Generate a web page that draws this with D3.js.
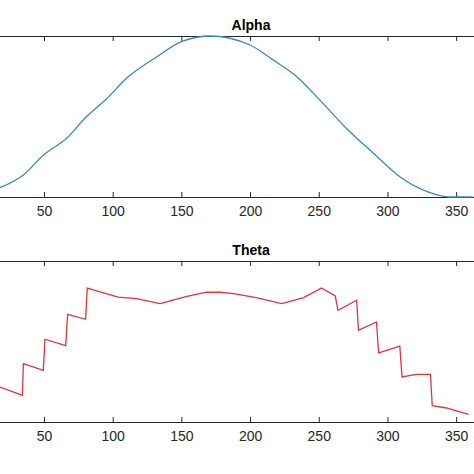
<!DOCTYPE html>
<html><head><meta charset="utf-8">
<script src="https://cdn.jsdelivr.net/npm/d3@7"></script>
<style>body{margin:0;background:#fff}svg{display:block}</style>
</head><body><div id="chart"></div>
<script>
const xTicks = [50, 100, 150, 200, 250, 300, 350];
const alphaX = [0, 18, 35, 49.5, 66.5, 81, 95.6, 110, 132, 150, 171, 200, 217, 234, 251, 270, 290, 309, 329, 345.5, 362];
const alphaY = [0.01, 0.058, 0.137, 0.26, 0.365, 0.5, 0.61, 0.737, 0.87, 0.965, 1, 0.944, 0.85, 0.747, 0.6, 0.427, 0.27, 0.126, 0.033, 0, 0];
const thetaX = [0, 18, 34.3, 35, 49.5, 50.7, 65.8, 67.2, 80.3, 81.5, 104, 117.5, 134.5, 154, 168.5, 178, 188, 204.5, 223, 239, 252, 262, 264, 277.6, 278.9, 292, 293.6, 309, 310.6, 321, 331.3, 332.6, 343, 359];
const thetaY = [0.26, 0.217, 0.166, 0.363, 0.321, 0.514, 0.474, 0.669, 0.638, 0.832, 0.776, 0.766, 0.735, 0.781, 0.806, 0.806, 0.797, 0.773, 0.735, 0.773, 0.832, 0.783, 0.694, 0.756, 0.57, 0.621, 0.429, 0.472, 0.28, 0.296, 0.296, 0.102, 0.087, 0.048];

const width = 474, height = 474;
const svg = d3.select("#chart").append("svg").attr("width", width).attr("height", height);
const x = d3.scaleLinear().domain([0, 363]).range([-24.7, 474]);
const font = "'Liberation Sans', Arial, sans-serif";

function panel(top, bottom, title, xs, ys, color, curve) {
  const y = d3.scaleLinear().domain([0, 1]).range([bottom, top]);
  const g = svg.append("g");
  const axB = g.append("g").attr("transform", `translate(0,${bottom})`)
    .call(d3.axisBottom(x).tickValues(xTicks).tickSize(-5).tickPadding(9).tickSizeOuter(0));
  const axT = g.append("g").attr("transform", `translate(0,${top})`)
    .call(d3.axisTop(x).tickValues(xTicks).tickSize(-5).tickFormat("").tickSizeOuter(0));
  [axB, axT].forEach(a => {
    a.select(".domain").attr("stroke", "#262626");
    a.selectAll(".tick line").attr("stroke", "#262626");
  });
  axB.selectAll("text").attr("font-family", font).attr("font-size", 14).attr("fill", "#262626");
  g.append("text").attr("x", 251).attr("y", top - 6).attr("text-anchor", "middle")
    .attr("font-family", font).attr("font-weight", "bold").attr("font-size", 14).text(title);
  const pts = xs.map((v, i) => [v, ys[i]]);
  g.append("path").datum(pts).attr("fill", "none").attr("stroke", color).attr("stroke-width", 1.3)
    .attr("d", d3.line().x(d => x(d[0])).y(d => y(d[1])).curve(curve));
}

panel(36, 197, "Alpha", alphaX, alphaY, "#3a87c0", d3.curveMonotoneX);
panel(261, 422, "Theta", thetaX, thetaY, "#d9363e", d3.curveLinear);
</script></body></html>
